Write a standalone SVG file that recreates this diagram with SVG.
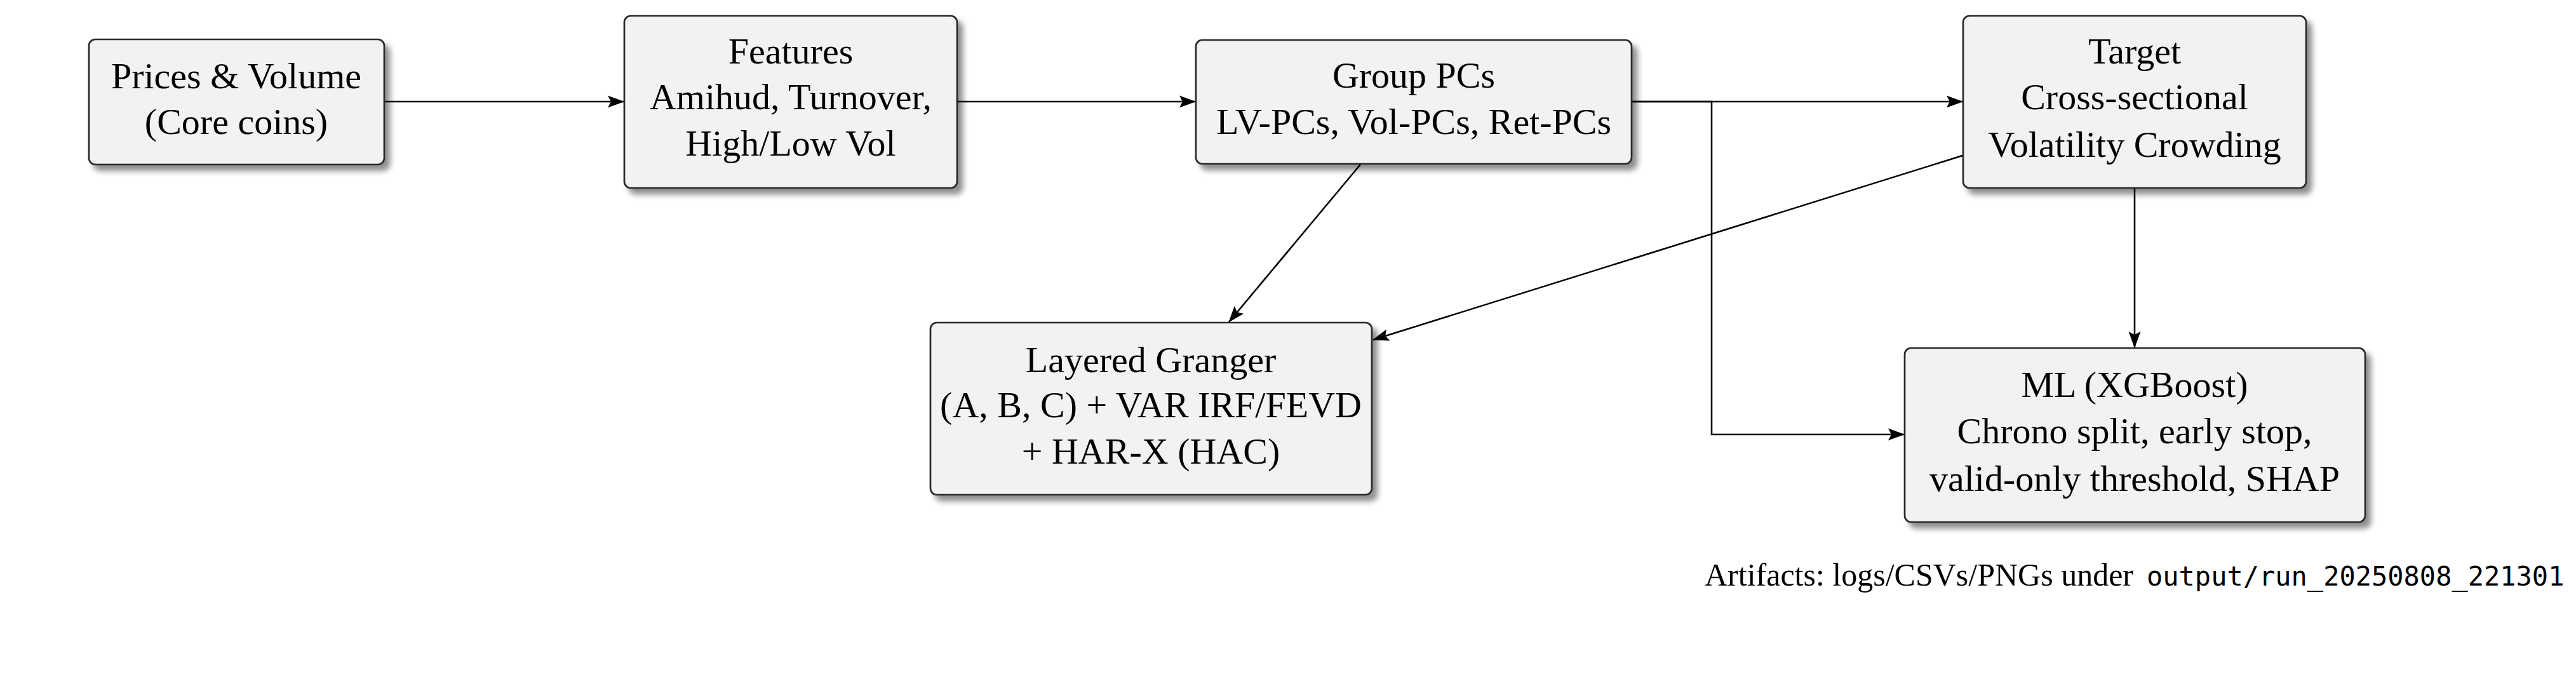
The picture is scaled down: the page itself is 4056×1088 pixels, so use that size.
<svg xmlns="http://www.w3.org/2000/svg" width="4056" height="1088" viewBox="0 0 4056 1088">
  <defs>
    <filter id="shadow" x="-10%" y="-10%" width="130%" height="140%">
      <feGaussianBlur in="SourceAlpha" stdDeviation="5"/>
      <feOffset dx="8" dy="9" result="blur"/>
      <feComponentTransfer><feFuncA type="linear" slope="0.45"/></feComponentTransfer>
      <feMerge><feMergeNode/><feMergeNode in="SourceGraphic"/></feMerge>
    </filter>
    <marker id="arrow" viewBox="0 0 26 20" refX="25" refY="10" markerWidth="26" markerHeight="20" markerUnits="userSpaceOnUse" orient="auto">
      <path d="M0,0.5 L26,10 L0,19.5 L5,10 z" fill="#000"/>
    </marker>
    <style>
      .box { fill: #f2f2f2; stroke: #2b2b2b; stroke-width: 2.7; filter: url(#shadow); }
      .lbl { font-family: "Liberation Serif", "Times New Roman", serif; font-size: 58px; fill: #000; text-anchor: middle; }
      .edge { fill: none; stroke: #000; stroke-width: 2.6; marker-end: url(#arrow); }
      .note { font-family: "Liberation Serif", "Times New Roman", serif; font-size: 50px; fill: #000; }
      .mono { font-family: "DejaVu Sans Mono", "Liberation Mono", monospace; font-size: 42px; }
    </style>
  </defs>

  <g id="connectors">
    <path class="edge" d="M605,160 L982,160"/>
    <path class="edge" d="M1507,160 L1882,160"/>
    <path class="edge" d="M2569,160 L3090,160"/>
    <path class="edge" d="M2569,160 L2695,160 L2695,684 L2998,684"/>
    <path class="edge" d="M2142,259 L1935,507"/>
    <path class="edge" d="M3090,245 L2162,535"/>
    <path class="edge" d="M3361,296 L3361,547"/>
  </g>

  <g id="node-prices">
    <rect class="box" x="140" y="62" width="465" height="197" rx="10"/>
    <text class="lbl" x="372" y="139">Prices &amp; Volume</text>
    <text class="lbl" x="372" y="211">(Core coins)</text>
  </g>

  <g id="node-features">
    <rect class="box" x="983" y="25" width="524" height="271" rx="10"/>
    <text class="lbl" x="1245" y="100">Features</text>
    <text class="lbl" x="1245" y="172">Amihud, Turnover,</text>
    <text class="lbl" x="1245" y="245">High/Low Vol</text>
  </g>

  <g id="node-grouppcs">
    <rect class="box" x="1883" y="63" width="686" height="195" rx="10"/>
    <text class="lbl" x="2226" y="138">Group PCs</text>
    <text class="lbl" x="2226" y="211">LV-PCs, Vol-PCs, Ret-PCs</text>
  </g>

  <g id="node-target">
    <rect class="box" x="3091" y="25" width="540" height="271" rx="10"/>
    <text class="lbl" x="3361" y="100">Target</text>
    <text class="lbl" x="3361" y="172">Cross-sectional</text>
    <text class="lbl" x="3361" y="247">Volatility Crowding</text>
  </g>

  <g id="node-granger">
    <rect class="box" x="1465" y="508" width="695" height="271" rx="10"/>
    <text class="lbl" x="1812" y="586">Layered Granger</text>
    <text class="lbl" x="1812" y="657">(A, B, C) + VAR IRF/FEVD</text>
    <text class="lbl" x="1812" y="730">+ HAR-X (HAC)</text>
  </g>

  <g id="node-ml">
    <rect class="box" x="2999" y="548" width="725" height="274" rx="10"/>
    <text class="lbl" x="3361" y="625">ML (XGBoost)</text>
    <text class="lbl" x="3361" y="698">Chrono split, early stop,</text>
    <text class="lbl" x="3361" y="773">valid-only threshold, SHAP</text>
  </g>

  <g id="note-artifacts">
    <text class="note" x="2684" y="922">Artifacts: logs/CSVs/PNGs under <tspan class="mono" x="3380">output/run_20250808_221301</tspan></text>
  </g>
</svg>
